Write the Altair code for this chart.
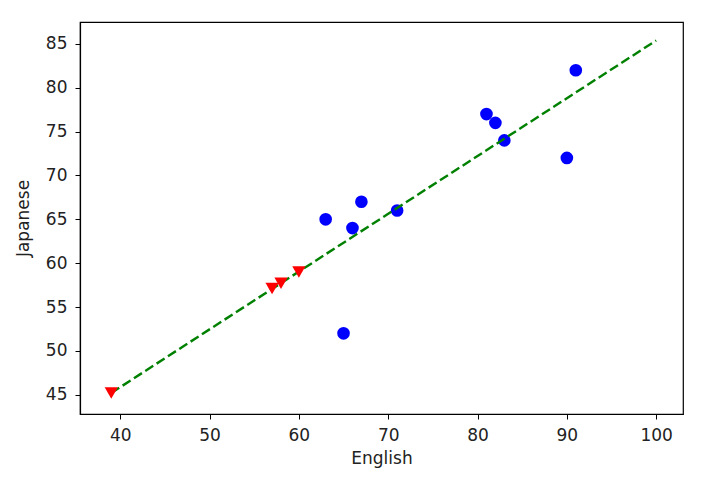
import altair as alt
import pandas as pd

# scores
english = [63, 66, 67, 65, 71, 81, 82, 83, 90, 91]
japanese = [65, 64, 67, 52, 66, 77, 76, 74, 72, 82]

# fitted line, its two ends
line_x = [39, 100]
line_y = [45.2, 85.4]

# predicted points on the line
pred_x = [39, 57, 58, 60]
pred_y = [45.2, 57.1, 57.7, 59.0]

points = pd.DataFrame({"English": english, "Japanese": japanese})
fit = pd.DataFrame({"English": line_x, "Japanese": line_y})
pred = pd.DataFrame({"English": pred_x, "Japanese": pred_y})

x_scale = alt.Scale(domain=[35.5, 103.0], nice=False, zero=False)
y_scale = alt.Scale(domain=[42.8, 87.5], nice=False, zero=False)

x_axis = alt.Axis(values=list(range(40, 101, 10)), title="English", titlePadding=7)
y_axis = alt.Axis(values=list(range(45, 86, 5)), title="Japanese", titlePadding=13)

base_x = alt.X("English:Q", scale=x_scale, axis=x_axis)
base_y = alt.Y("Japanese:Q", scale=y_scale, axis=y_axis)

dots = alt.Chart(points).mark_point(
    shape="circle", filled=True, color="#0000ff", size=160, opacity=1
).encode(x=base_x, y=base_y)

line = alt.Chart(fit).mark_line(
    color="#008000", strokeWidth=2.4, strokeDash=[9.5, 4], strokeCap="butt"
).encode(x=base_x, y=base_y)

tri = alt.Chart(pred).mark_point(
    shape="triangle-down", filled=True, color="#ff0000", size=175, opacity=1
).encode(x=base_x, y=base_y)

chart = (dots + line + tri).properties(
    width=603,
    height=392,
    autosize=alt.AutoSizeParams(type="none"),
    padding={"left": 72, "top": 14, "right": 37, "bottom": 62},
).configure_view(
    stroke="#000000", strokeWidth=1.2
).configure_axis(
    grid=False,
    domainColor="#000000",
    domainWidth=1.2,
    tickColor="#000000",
    tickSize=5,
    tickWidth=1,
    labelFont="DejaVu Sans",
    labelFontSize=17,
    labelColor="#222222",
    labelPadding=8,
    titleFont="DejaVu Sans",
    titleFontSize=17,
    titleFontWeight="normal",
    titleColor="#222222",
)

chart.save("out.html", embed_options={"renderer": "svg", "actions": False})
